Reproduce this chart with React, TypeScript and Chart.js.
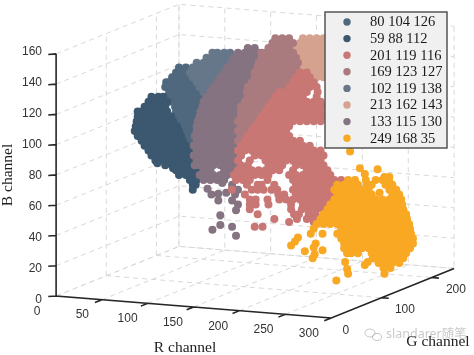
import React, { useEffect, useRef } from "react";
import { Chart, registerables } from "chart.js";

Chart.register(...registerables);

const rTicks = [0, 50, 100, 150, 200, 250, 300];
const gTicks = [0, 100, 200];
const bTicks = [0, 20, 40, 60, 80, 100, 120, 140, 160];
const rMax = 300;
const gMax = 245;
const bMax = 160;

const seriesLabels = ["80 104 126", "59 88 112", "201 119 116", "169 123 127", "102 119 138", "213 162 143", "133 115 130", "249 168 35"];

// Each row: picture-plane height first, then the horizontal positions of the dots on it.
const steelRows = [[65,178,185],[70,175,182,189],[75,171,178,185,192],[80,165,168,175,182,189,196],[85,164,171,178,185,192,199,206],[90,168,175,182,189,196,203,210],[95,164,171,178,185,192,199,206],[100,168,175,182,189,196,203],[105,174,178,185,192,199,206],[110,175,182,189,196,203],[115,171,178,185,192,199,206],[120,175,182,189,196,203],[125,178,185,192,199],[130,182,189,196,203],[135,178,185,192,199],[140,182,189,196],[145,185,192,199],[150,189,196],[155,192,199],[160,196]];
const darkRows = [[95,150,157,162],[100,147,154,161,166],[105,143,150,157,164],[110,136,140,147,154,161,166],[115,136,143,150,157,164,170],[120,135,140,147,154,161,168,172],[125,134,136,143,150,157,164,171,176],[130,133,140,147,154,161,168,175,178],[135,136,143,150,157,164,171,178,180],[140,140,147,154,161,168,175,182],[145,143,150,157,164,171,178,185],[150,147,154,161,168,175,182,189],[155,150,157,164,171,178,185,192],[160,154,161,168,175,182,189,196],[163,156],[165,164,171,178,185,192,199],[168,172],[170,175,182,189,196],[175,178,185,192,199],[180,189,196],[185,192,195],[190,192]];
const slateRows = [[50,212,217,224,230],[55,206,213,220,227,234],[60,196,203,210,217,224,231],[65,192,199,206,213,220,227],[70,189,196,203,210,217,224],[75,192,199,206,213,220,227],[80,196,203,210,217,224],[85,199,206,213,220],[90,203,210,217],[95,206,213],[100,210]];
const purpleRows = [[45,248,255],[50,238,245,252,259],[55,234,241,248,255,262],[60,231,238,245,252,259,266],[65,227,234,241,248,255,262],[70,224,231,238,245,252,259],[75,220,227,234,241,248,255,262],[80,217,224,231,238,245,252,259],[85,213,220,227,234,241,248,255],[90,210,217,224,231,238,245,252],[95,206,213,220,227,234,241,248,255],[100,203,210,217,224,231,238,245,252],[105,202,206,213,220,227,234,241,248],[110,200,203,210,217,224,231,238,245],[115,199,206,213,220,227,234,241,248],[120,197,203,210,217,224,231,238,245],[125,196,199,206,213,220,227,234,241],[130,196,203,210,217,224,231,238,245],[135,194,199,206,213,220,227,234,241],[140,196,203,210,217,224,231,238,245],[145,193,199,206,213,220,227,234,241],[150,196,203,210,217,224,231,238],[155,193,199,206,213,220,227,234,241],[160,196,203,210,217,224,231,238],[165,194,199,206,213,220,227,234],[170,203,210,224,231],[175,199,206,213,220,227,234],[180,203,210,217,224],[183,222],[189,207,232],[185,232],[190,238],[193,226],[194,218],[195,211,235],[201,218,232],[205,238],[211,236],[216,220],[226,220],[228,232],[231,212],[237,236]];
const mauveRows = [[35,276,283,290],[40,273,280,287,294],[45,269,276,283,290],[50,262,266,273,280,287,294],[55,262,269,276,283,290,297],[60,259,266,273,280,287,294,299],[65,258,262,269,276,283,290,297],[70,255,259,266,273,280,287,294,301],[75,255,262,269,276,283,290,297,304],[80,252,259,266,273,280,287,294,301],[85,248,255,262,269,276,283,290,297],[90,247,252,259,266,273,280,287,294],[95,248,255,262,269,276,283,290],[100,245,252,259,266,273,280,287],[105,241,248,255,262,269,276,283],[110,241,245,252,259,266,273,280],[115,241,248,255,262,269,276],[120,238,245,252,259,266,273],[125,241,248,255,262,269],[130,238,245,252,259,266],[135,241,248,255,262],[140,238,245,252,259],[145,241,248,255]];
const tanRows = [[35,304,311,318,325],[40,301,308,315,322,329],[45,297,304,311,318,325],[50,294,301,308,315,322,329],[55,297,304,311,318,325],[60,294,301,308,315,322,329],[65,297,304,311,318,325],[70,301,308,315,322,329],[75,304,311,318,325],[80,315]];
const redRows = [[70,301,308],[75,297,304,311],[80,294,301,308,315],[85,290,297,304,311,318],[90,280,287,294,301,308,319],[95,276,283,290,297,304,318],[100,273,280,287,294,301,308,315,322],[105,269,276,283,290,297,304,311,318,325],[110,266,273,280,287,294,301,308,315,322],[115,262,269,276,283,290,297,304,311,318,325],[120,259,266,273,280,287,294,301,308,315,322],[125,255,262,269,276,283,290],[130,252,259,266,273,280,287],[135,248,255,262,269,276,283,290],[140,245,252,259,266,273,280,287,294,301],[145,241,248,255,262,269,276,283,290,297,304,311],[150,238,245,252,259,266,273,280,287,294,301,308,315,322],[155,241,255,262,269,276,283,290,297,304,311,318,325],[160,238,250,266,273,280,287,294,301,308,315,322],[165,241,248,269,276,283,297,304,311,318,325],[170,238,245,252,259,266,273,280,294,308,315,322,329],[175,234,241,248,255,262,269,290,297,304,311,318,325,332],[180,236,243,250,268,294,301,308,315,322,329,336,343],[185,247,258,262,275,297,304,311,318,325,332],[190,232,252,258,264,272,278,294,301,308,315,322,329],[195,245,279,285,297,304,311,318,325,332],[200,250,256,268,280,287,294,301,308,315,322,329],[205,250,256,269,292,304,311,318,325,331],[210,250,292,303,310,317,324],[215,258,295,300,310,317],[220,275,298,308,315],[223,290,315],[228,255,263]];
const orangeRows = [[151,352],[168,362],[169,380],[174,367],[177,387,392],[180,350,357,368,378,385],[182,392],[185,339,346,353,360,369,374,388,395],[190,336,343,350,357,364,371,392,399],[193,382],[195,339,346,353,360,367,374,395,402],[200,336,343,350,357,364,371,378,385,392,399,404],[205,332,339,346,353,360,367,374,381,388,395,402,405],[210,329,336,343,350,357,364,371,378,385,392,399,406],[215,325,332,339,346,353,360,367,374,381,388,395,402,409],[220,322,329,336,343,350,357,364,371,378,385,392,399,406,410],[225,318,325,332,339,346,353,360,367,374,381,388,395,402,409,412],[230,315,343,350,357,364,371,378,385,392,399,406,413],[235,312,324,339,346,353,360,367,374,381,388,395,402,409,414],[239,299],[240,343,350,357,364,371,378,385,392,399,406,413,416],[243,296],[245,317,346,353,360,367,374,381,388,395,402,409,416],[247,292],[249,315],[250,346,350,357,364,371,378,385,392,399,406,413],[252,324],[253,306],[255,349,353,360,374,381,388,395,402,409],[256,316],[260,314,375,378,385,392,399,406],[264,347,370],[265,381,388,395,402],[267,367],[270,386,393],[271,349],[276,350,387],[283,338]];

const seriesColors = ["rgb(80,104,126)", "rgb(59,88,112)", "rgb(201,119,116)", "rgb(169,123,127)", "rgb(102,119,138)", "rgb(213,162,143)", "rgb(133,115,130)", "rgb(249,168,35)"];
const seriesRows = [steelRows, darkRows, redRows, mauveRows, slateRows, tanRows, purpleRows, orangeRows];
const drawRank = [7, 6, 3, 4, 6.5, 5, 5.5, 1];

const project = (r: number, g: number, b: number) => ({
  x: 53 + 0.933 * r + 0.51 * g,
  y: 298.7 + 0.075 * r - 0.207 * g - 1.548 * b,
});

const toPoints = (rows: number[][]) =>
  rows.flatMap(([y, ...xs]) => xs.map((x) => ({ x, y })));

const BREAK = { x: NaN, y: NaN };

function gridPoints() {
  const pts: { x: number; y: number }[] = [];
  const gWall = [...gTicks.slice(1), gMax];
  for (const b of bTicks) pts.push(project(0, 0, b), project(0, gMax, b), project(rMax, gMax, b), BREAK);
  for (const g of gWall) pts.push(project(0, g, 0), project(0, g, bMax), BREAK);
  for (const g of gWall) pts.push(project(0, g, 0), project(rMax, g, 0), BREAK);
  for (const r of rTicks) pts.push(project(r, 0, 0), project(r, gMax, 0), project(r, gMax, bMax), BREAK);
  return pts;
}

function axisPoints() {
  const pts: { x: number; y: number }[] = [];
  pts.push(project(0, 0, bMax), project(0, 0, 0), project(rMax, 0, 0), project(rMax, gMax, 0), BREAK);
  for (const b of bTicks) pts.push(project(0, 0, b), { x: project(0, 0, b).x - 8, y: project(0, 0, b).y + 0.6 }, BREAK);
  for (const r of rTicks.slice(1)) pts.push(project(r, 0, 0), project(r, -14, 0), BREAK);
  for (const g of gTicks.slice(1)) pts.push(project(rMax, g, 0), project(rMax + 8, g, 0), BREAK);
  return pts;
}

const overlay = {
  id: "overlay",
  afterDraw(chart: Chart) {
    const c = chart.ctx;
    c.save();
    c.fillStyle = "#333";
    c.font = "12px 'Liberation Sans'";
    c.textBaseline = "middle";
    c.textAlign = "right";
    for (const b of bTicks) c.fillText(String(b), 42, project(0, 0, b).y + 0.5);
    c.textAlign = "center";
    for (const r of rTicks) {
      const p = project(r, 0, 0);
      c.fillText(String(r), p.x - 16 - r * 0.027, p.y + 12.5);
    }
    for (const g of gTicks) {
      const p = project(rMax, g, 0);
      c.fillText(String(g), p.x + 13 + Math.min(g, 100) * 0.08, p.y + 9.5);
    }

    // watermark
    c.globalAlpha = 0.55;
    c.fillStyle = "#9a9a9a";
    c.textAlign = "left";
    c.font = "12.5px 'Noto Sans', 'Noto Sans CJK SC'";
    c.fillText("slandarer随笔", 386, 334);
    c.strokeStyle = "#9a9a9a";
    c.lineWidth = 1;
    c.beginPath();
    c.ellipse(370, 333, 5, 4, 0, 0, Math.PI * 2);
    c.stroke();
    c.beginPath();
    c.ellipse(377, 337, 4.5, 3.5, 0, 0, Math.PI * 2);
    c.stroke();
    c.globalAlpha = 1;

    // axis titles
    c.fillStyle = "#222";
    c.font = "15.5px 'Liberation Serif'";
    c.textAlign = "center";
    c.fillText("R channel", 185, 348);
    c.fillText("G channel", 438, 342);
    c.save();
    c.translate(8, 175);
    c.rotate(-Math.PI / 2);
    c.fillText("B channel", 0, 0);
    c.restore();

    // legend box
    c.fillStyle = "#f0f0f0";
    c.fillRect(325, 12, 122, 136);
    c.strokeStyle = "#555";
    c.lineWidth = 1.5;
    c.strokeRect(325, 12, 122, 136);
    c.font = "14.5px 'Liberation Serif'";
    c.textAlign = "left";
    seriesLabels.forEach((label, i) => {
      const y = 22 + i * 16.6;
      c.beginPath();
      c.fillStyle = seriesColors[i];
      c.arc(347, y, 3.7, 0, Math.PI * 2);
      c.fill();
      c.fillStyle = "#1a1a1a";
      c.fillText(label, 370, y + 0.5);
    });
    c.restore();
  },
};

export default function App() {
  const ref = useRef<HTMLCanvasElement>(null);
  useEffect(() => {
    const chart = new Chart(ref.current!, {
      type: "scatter",
      data: {
        datasets: [
          {
            label: "grid",
            data: gridPoints(),
            showLine: true,
            spanGaps: false,
            borderColor: "#d8d8d8",
            borderWidth: 1,
            borderDash: [5, 4],
            pointRadius: 0,
            order: 20,
          },
          {
            label: "axes",
            data: axisPoints(),
            showLine: true,
            spanGaps: false,
            borderColor: "#262626",
            borderWidth: 1.6,
            pointRadius: 0,
            order: 19,
          },
          ...seriesLabels.map((label, i) => ({
            label,
            data: toPoints(seriesRows[i]),
            backgroundColor: seriesColors[i],
            borderColor: seriesColors[i],
            borderWidth: 0,
            pointRadius: 4,
            order: drawRank[i],
          })),
        ],
      },
      options: {
        animation: false,
        responsive: false,
        layout: { padding: 0 },
        clip: false,
        plugins: { legend: { display: false }, tooltip: { enabled: false } },
        scales: {
          x: { type: "linear", min: 0, max: 474, display: false },
          y: { type: "linear", min: 0, max: 355, reverse: true, display: false },
        },
      },
      plugins: [overlay],
    } as any);
    return () => chart.destroy();
  }, []);
  return (
    <div style={{ position: "fixed", left: 0, top: 0, width: 474, height: 355, background: "#fff" }}>
      <canvas ref={ref} width={474} height={355} style={{ display: "block" }} />
    </div>
  );
}
